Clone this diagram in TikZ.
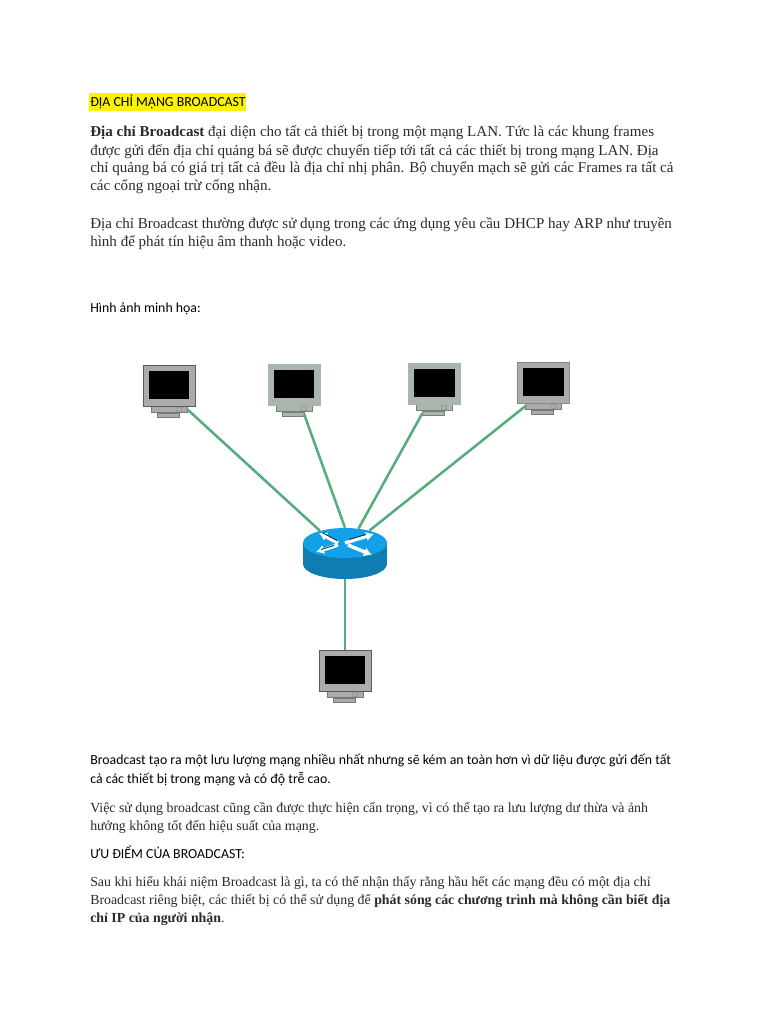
\documentclass[tikz,border=0pt]{standalone}
\usepackage{fontspec}
\setmainfont{Liberation Serif}
\newfontfamily\carlito{Carlito}
\usetikzlibrary{fit}
\usetikzlibrary{arrows.meta}
\usetikzlibrary{shapes.geometric}

\definecolor{linkgreen}{HTML}{55AD7C}
\definecolor{routertop}{HTML}{12A0E6}
\definecolor{routerside}{HTML}{0F7DB4}
\definecolor{monitorgray}{HTML}{ABABAB}
\definecolor{monitorgreen}{HTML}{A9B5AD}
\definecolor{monitoredge}{HTML}{5A5A5A}
\definecolor{serifink}{HTML}{2A2A2A}

\tikzset{
	box/.style={fit={#1}, inner sep=0pt},
	disc/.style={ellipse, minimum width=63pt, minimum height=22.5pt, inner sep=0pt},
	serifline/.style={anchor=base west, inner sep=0pt, text=serifink, font=\fontsize{11.28}{13}\selectfont},
	smallserif/.style={serifline, font=\fontsize{10.4}{13}\selectfont},
	sansline/.style={anchor=base west, inner sep=0pt, text=black, font=\carlito\fontsize{10.38}{13}\selectfont},
	link/.style={draw=linkgreen, line width=1.9pt},
	routerarrow/.style={white, line width=2.6pt, -{Latex[length=6pt,width=7pt]}},
	routershade/.style={black!55!routerside, line width=.7pt},
	pics/monitor/.style n args={2}{code={
		\node[box={(20,46) (31,50)}, fill=#1!80!gray] (-neck) {};
		\node[box={(8,41) (44,47.5)}, draw=#1!70!black, fill=#1, line width=.4pt] (-base) {};	% base under the case
		\node[box={(14,48.5) (36,52.5)}, draw=#1!70!black, fill=#1, line width=.4pt] (-foot) {};
		\node[box={(0,0) (52,41)}, draw=#2, fill=#1, line width=.6pt] (-body) {};
		\node[box={(5.5,6) (46,34)}, fill=black] (-screen) {};
		\node[box={(33,42.5) (38,46)}, draw=white!60!black, line width=.4pt] (-button) {};
	}},
}

\begin{document}
\begin{tikzpicture}[x=.75pt, y=-.75pt]
	\useasboundingbox (0,0) rectangle (768,1024);
	\fill[white] (0,0) rectangle (768,1024);

	\node[box={(89,93) (246,111)}, fill=yellow] (mark) {};	% heading
	\node[sansline] (head) at (90,106.5) {ĐỊA CHỈ MẠNG BROADCAST};

	\node[serifline] (intro1) at (90,137) {\textbf{Địa chỉ Broadcast} đại diện cho tất cả thiết bị trong một mạng LAN. Tức là các khung frames};	% upper text
	\node[serifline] (intro2) at (90,155) {được gửi đến địa chỉ quảng bá sẽ được chuyển tiếp tới tất cả các thiết bị trong mạng LAN. Địa};
	\node[serifline] (intro3) at (90,172) {chỉ quảng bá có giá trị tất cả đều là địa chỉ nhị phân. Bộ chuyển mạch sẽ gửi các Frames ra tất cả};
	\node[serifline] (intro4) at (90,190) {các cổng ngoại trừ cổng nhận.};
	\node[serifline] (use1) at (90,228) {Địa chỉ Broadcast thường được sử dụng trong các ứng dụng yêu cầu DHCP hay ARP như truyền};
	\node[serifline] (use2) at (90,246) {hình để phát tín hiệu âm thanh hoặc video.};
	\node[sansline] (caption) at (90,312.5) {Hình ảnh minh họa:};

	\pic (mA) at (143,365) {monitor={monitorgray}{monitoredge}};	% monitors
	\pic (mB) at (268,364) {monitor={monitorgreen}{monitorgreen}};
	\pic (mC) at (408.5,363) {monitor={monitorgreen}{monitorgreen}};
	\pic (mD) at (517.5,362) {monitor={monitorgray}{monitorgray!80!black}};
	\pic (mE) at (319,650) {monitor={monitorgray}{monitoredge}};

	\node[disc, fill=routerside] (Rlow) at (345,564) {};	% router
	\fill[routerside] (303,543) rectangle (387,564);
	\node[disc, fill=routertop] (R) at (345,543) {};
	\draw[routerarrow] (338,543) -- (319,533);
	\draw[routerarrow] (345,543) -- (374,534);
	\draw[routerarrow] (338,545) -- (316,552);
	\draw[routerarrow] (348,545) -- (372,555);
	\draw[routershade] (337,540.5) -- (323,533);
	\draw[routershade] (349,539.5) -- (366,534.5);
	\draw[routershade] (334,545.5) -- (321,549.5);

	\draw[link] (mA-base.east) -- (R.154);	% links
	\draw[link] (mB-foot.east) -- (R.90);
	\draw[link] (mC-foot.west) -- (R.47);
	\draw[link] (mD-base.west) -- (R.27);
	\draw[link] (Rlow.south) -- (mE-body.north);

	\node[sansline] (low1) at (90,764.5) {Broadcast tạo ra một lưu lượng mạng nhiều nhất nhưng sẽ kém an toàn hơn vì dữ liệu được gửi đến tất};	% lower text
	\node[sansline] (low2) at (90,783) {cả các thiết bị trong mạng và có độ trễ cao.};
	\node[smallserif] (care1) at (90,812) {Việc sử dụng broadcast cũng cần được thực hiện cẩn trọng, vì có thể tạo ra lưu lượng dư thừa và ảnh};
	\node[smallserif] (care2) at (90,830) {hưởng không tốt đến hiệu suất của mạng.};
	\node[sansline] (plus) at (90,858) {ƯU ĐIỂM CỦA BROADCAST:};
	\node[smallserif] (sum1) at (90,886) {Sau khi hiểu khái niệm Broadcast là gì, ta có thể nhận thấy rằng hầu hết các mạng đều có một địa chỉ};
	\node[smallserif] (sum2) at (90,904) {Broadcast riêng biệt, các thiết bị có thể sử dụng để \textbf{phát sóng các chương trình mà không cần biết địa}};
	\node[smallserif] (sum3) at (90,922) {\textbf{chỉ IP của người nhận}.};
\end{tikzpicture}
\end{document}
